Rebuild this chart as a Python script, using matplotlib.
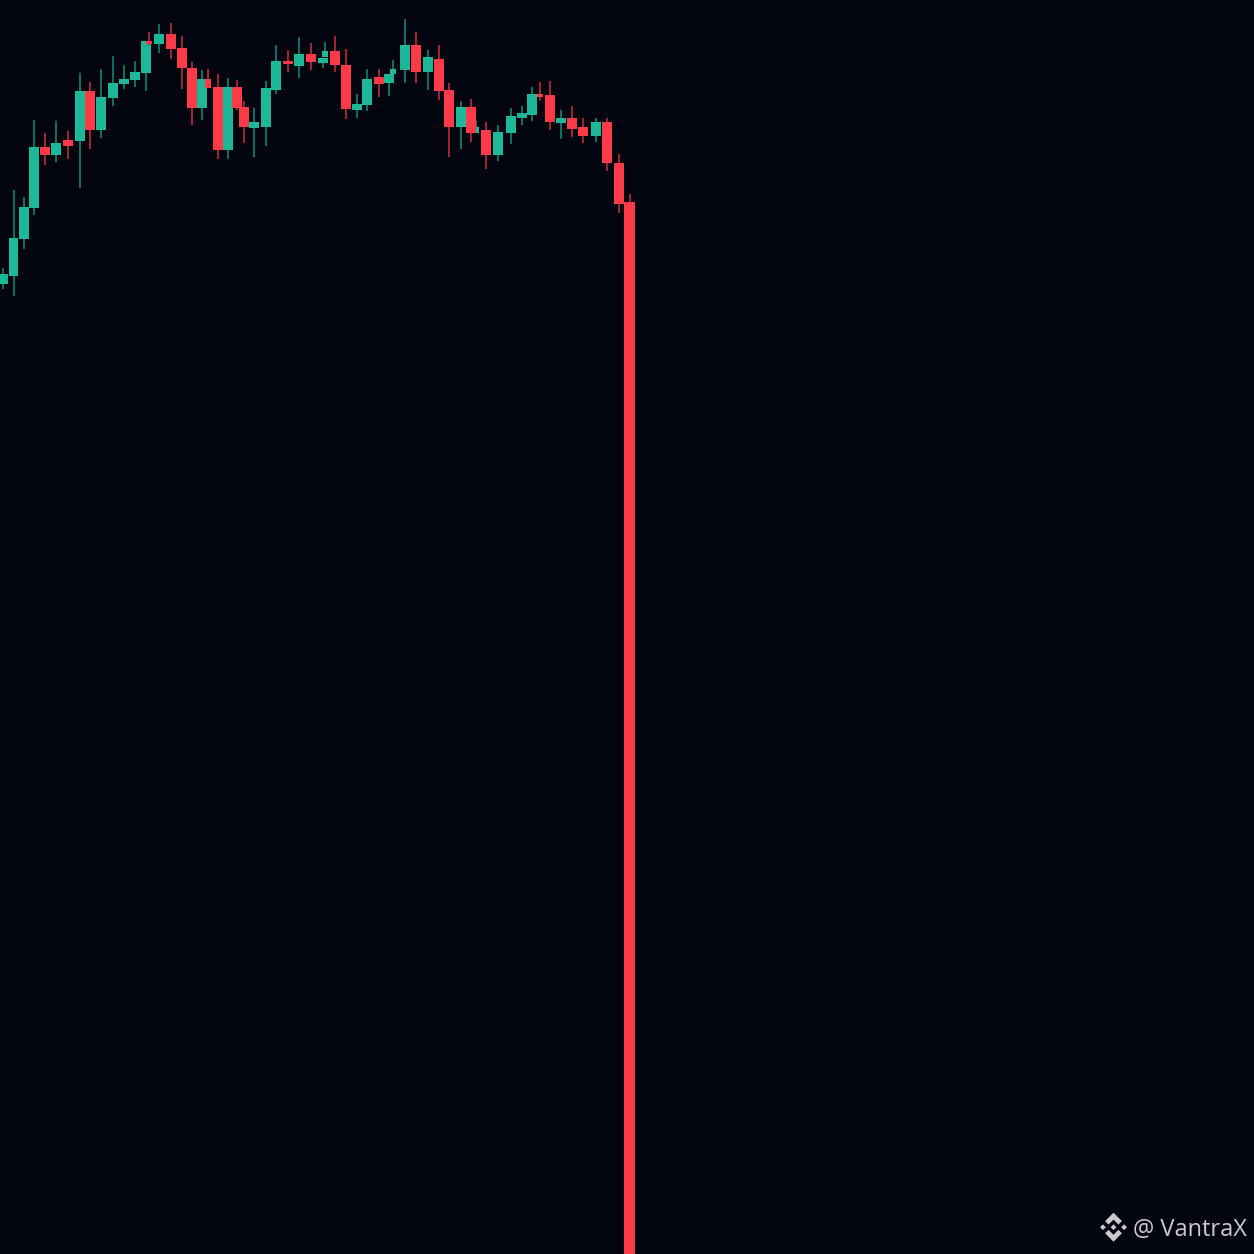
import matplotlib
matplotlib.use("Agg")
import matplotlib.pyplot as plt
from matplotlib.patches import Polygon

# candles
times = [0.3, 1.35, 2.4, 3.4, 4.5, 5.6, 6.8, 8.0, 9.0, 10.1, 11.3, 12.4, 13.5, 14.6, 14.9, 15.9,
         17.1, 18.2, 19.2, 20.2, 20.8, 21.8, 22.8, 23.7, 24.4, 25.4, 26.6, 27.6, 28.8, 29.9, 31.1,
         32.3, 32.5, 33.5, 34.6, 35.7, 36.7, 37.9, 38.9, 39.3, 40.5, 41.6, 42.8, 43.9, 44.9, 46.1,
         47.6, 47.1, 48.6, 49.8, 51.1, 52.2, 53.2, 54.0, 55.0, 56.1, 57.2, 58.3, 59.6, 60.7, 61.9, 62.95]
opens = [97.0, 97.8, 101.5, 104.6, 110.7, 109.9, 111.4, 111.3, 116.3, 112.4, 115.6, 117.0, 117.4, 118.1, 121.3, 121.0,
         122.0, 120.6, 118.6, 114.6, 117.5, 116.7, 110.4, 116.7, 114.7, 112.6, 112.7, 116.4, 119.3, 118.8, 120.0,
         119.1, 119.7, 120.3, 118.9, 114.4, 114.9, 117.7, 117.1, 118.0, 118.4, 120.9, 118.2, 119.5, 116.4, 112.7,
         112.1, 114.7, 112.4, 109.9, 112.1, 113.6, 113.9, 116.0, 115.9, 113.1, 113.6, 112.7, 111.8, 113.2, 109.1, 105.2]
closes = [98.0, 101.6, 104.7, 110.7, 109.9, 111.1, 110.8, 116.3, 112.4, 115.7, 117.1, 117.5, 118.2, 121.3, 121.0, 122.0,
          120.5, 118.6, 114.6, 117.5, 116.6, 110.4, 116.7, 114.6, 112.7, 113.2, 116.6, 119.3, 119.0, 120.0, 119.2,
          119.6, 120.3, 118.9, 114.5, 115.0, 117.5, 117.0, 118.0, 118.5, 120.9, 118.2, 119.7, 116.3, 112.7, 114.7,
          112.7, 112.1, 109.9, 112.2, 113.8, 114.1, 116.0, 115.7, 113.2, 113.6, 112.5, 111.8, 113.2, 109.1, 105.0, 0.0]
highs = [98.6, 106.4, 105.7, 113.4, 112.1, 113.3, 112.3, 118.1, 117.2, 118.5, 119.8, 118.9, 119.3, 121.3, 122.2, 123.0,
         123.1, 121.8, 119.2, 118.4, 118.5, 118.0, 117.6, 117.4, 115.3, 114.6, 117.3, 120.9, 120.4, 121.7, 121.1,
         119.6, 121.2, 121.8, 120.5, 116.0, 118.5, 118.5, 118.0, 119.4, 123.5, 122.2, 120.4, 120.9, 117.1, 115.3,
         113.4, 115.5, 113.2, 112.9, 114.6, 114.8, 116.7, 117.2, 117.3, 114.4, 114.8, 113.6, 113.6, 113.6, 110.0, 106.0]
lows = [96.5, 95.8, 100.5, 103.9, 108.9, 109.2, 109.5, 106.6, 110.5, 111.6, 114.8, 116.5, 116.7, 116.3, 120.9, 120.1,
        119.5, 116.5, 112.9, 113.4, 116.6, 109.5, 109.5, 114.4, 111.1, 109.7, 110.8, 116.0, 118.2, 117.6, 118.4,
        118.6, 119.7, 118.2, 113.5, 113.6, 114.3, 115.7, 115.8, 118.0, 117.1, 117.1, 116.4, 115.4, 109.7, 110.5,
        112.1, 111.2, 108.5, 109.3, 111.0, 112.9, 113.3, 115.3, 112.4, 111.5, 111.7, 111.1, 111.2, 108.3, 104.1, 0.0]

# candles squeezed between their neighbours, and the last big one
narrow = [14, 20, 32, 39, 46, 53]
last = len(times) - 1

BG = "#02040f"
GREEN = "#1cb898"
RED = "#fd3a48"
GREEN_WICK = "#0f806b"
RED_WICK = "#b82a36"

fig = plt.figure(figsize=(12.54, 12.54), dpi=100, facecolor=BG)
ax = fig.add_axes([0, 0, 1, 1], facecolor=BG)
ax.set_xlim(0, 125.4)
ax.set_ylim(0, 125.4)
ax.axis("off")

for i in range(len(times)):
    up = closes[i] >= opens[i]
    width = 0.95
    if i in narrow:
        width = 0.68
    if i == last:
        width = 1.08
    ax.vlines(times[i], lows[i], highs[i], color=GREEN_WICK if up else RED_WICK, lw=1.25, zorder=2 + i * 0.01)
    ax.bar(times[i], abs(closes[i] - opens[i]), width=width, bottom=min(opens[i], closes[i]),
           color=GREEN if up else RED, zorder=2.005 + i * 0.01)

# watermark logo, drawn around its centre
cx, cy, r = 111.35, 2.68, 1.45
top = [(0, 1), (0.58, 0.42), (0.34, 0.18), (0, 0.52), (-0.34, 0.18), (-0.58, 0.42)]
shapes = [top, [(px, -py) for px, py in top]]
for mx in (-0.73, 0, 0.73):
    shapes.append([(mx, 0.2), (mx + 0.2, 0), (mx, -0.2), (mx - 0.2, 0)])
for s in shapes:
    ax.add_patch(Polygon([(cx + px * r, cy + py * r) for px, py in s], closed=True,
                         fc="#c9c9ce", ec="none", zorder=5))

ax.text(124.7, 2.45, "@ VantraX", color="#c9c9ce", fontsize=17, family="Open Sans",
        ha="right", va="center", zorder=5)

fig.savefig("out.png", dpi=100, facecolor=BG)
